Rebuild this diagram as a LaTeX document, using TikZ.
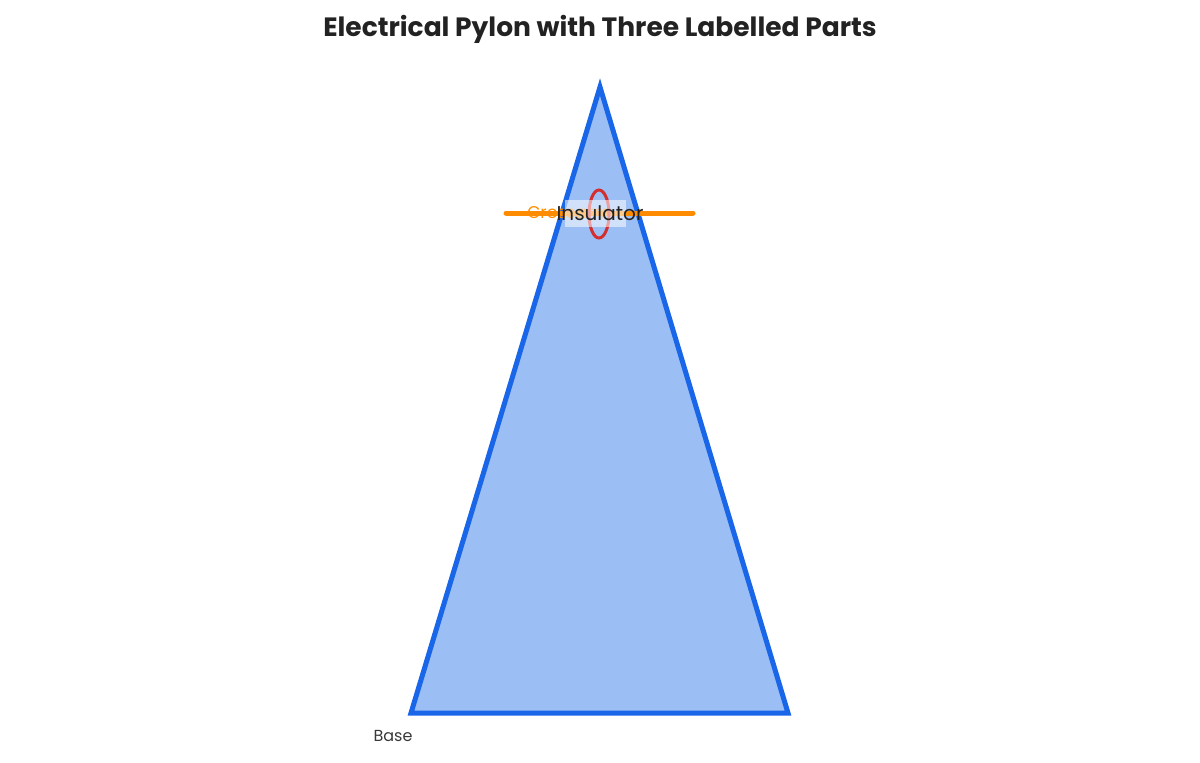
\documentclass[tikz,border=0pt]{standalone}
\usepackage{fontspec}
\setmainfont{Poppins}
\usepackage{tikz}
\usetikzlibrary{positioning,shapes.geometric}

\definecolor{towerblue}{HTML}{1A66E8}
\definecolor{towerfill}{HTML}{9BBEF5}
\definecolor{armorange}{HTML}{FF8C00}
\definecolor{insred}{HTML}{D32F2F}
\definecolor{inkgrey}{HTML}{222222}

\tikzset{
  tower/.style={draw=towerblue,fill=towerfill,line width=5pt,line join=miter},
  crossarm/.style={draw=armorange,line width=5pt,line cap=round},
  insulator/.style={draw=insred,line width=3pt},
  partlabel/.style={inner sep=0pt,text=inkgrey}
}

\begin{document}
\begin{tikzpicture}
  [x=1pt,y=-1pt]
  \useasboundingbox (0,0) rectangle (1200,763);

  % title
  \node[font=\bfseries\fontsize{26.5}{30}\selectfont,text=inkgrey] (title) at (600,29) {Electrical Pylon with Three Labelled Parts};

  % pylon body
  \coordinate (apex) at (600,87);
  \coordinate (baseL) at (411,713);
  \coordinate (baseR) at (788,713);
  \draw[tower] (apex) -- (baseR) -- (baseL) -- cycle;

  % crossarm
  \coordinate (armL) at (506,213);
  \coordinate (armR) at (693,213);
  \draw[crossarm] (armL) -- (armR);
  \node[partlabel,text=armorange,font=\fontsize{17}{20}\selectfont] (armlabel) at (569,213) {Crossarm};

  % insulator
  \node[insulator,ellipse,minimum width=20pt,minimum height=48pt,inner sep=0pt] (ins) at (599,214) {};
  \node[fill=white,fill opacity=0.55,minimum width=61pt,minimum height=27pt,inner sep=0pt] (insbox) at (595,213.5) {};
  \node[partlabel,font=\fontsize{20}{24}\selectfont] (inslabel) at (600,213) {Insulator};

  % base label
  \node[partlabel,font=\fontsize{16}{19}\selectfont,text=inkgrey!90] (baselabel) at (393,736) {Base};
\end{tikzpicture}
\end{document}
